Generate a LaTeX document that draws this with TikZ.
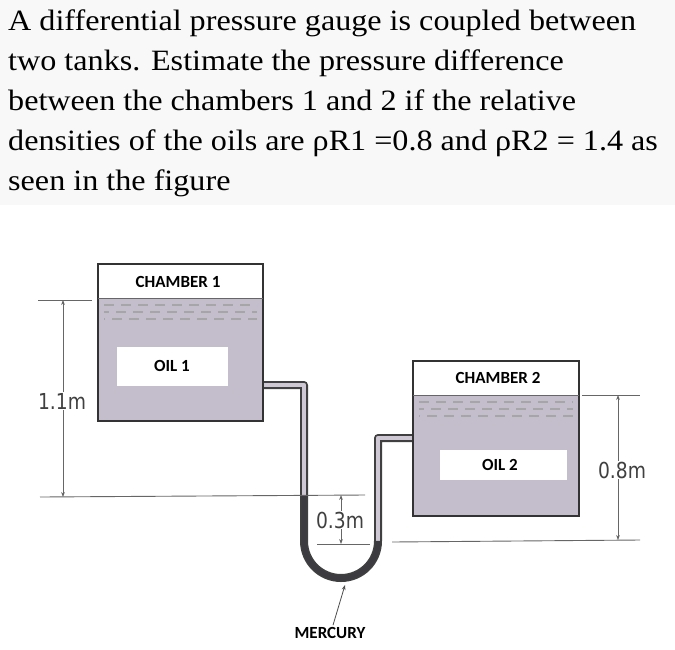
\documentclass[tikz,border=0pt]{standalone}
\usepackage{fontspec}
\setmainfont[FakeStretch=1.09]{Liberation Serif}
\newfontfamily\labfont{Carlito}
\newfontfamily\dimfont[FakeStretch=0.85]{DejaVu Sans}
\usetikzlibrary{arrows.meta}
\definecolor{oil}{RGB}{196,190,204}
\definecolor{hg}{RGB}{60,60,64}
\definecolor{bg}{RGB}{248,248,248}
\tikzset{
  tank/.style={draw=black!80,line width=1.2pt},
  lbl/.style={font=\labfont\bfseries\fontsize{17}{19}\selectfont,inner sep=0pt},
  dimtxt/.style={font=\dimfont\fontsize{22}{24}\selectfont,text=black!75,inner sep=1pt},
  title/.style={anchor=base west,font=\fontsize{29.5}{34}\selectfont,inner sep=0pt},
  guide/.style={draw=black!60,line width=0.9pt},
  dimarr/.style={draw=black!60,line width=0.8pt,{Stealth[length=5pt]}-{Stealth[length=5pt]}},
  tube/.style={draw=black!75,line width=8pt,line join=round},
  tubein/.style={draw=oil!85,line width=4.5pt,line join=round},
  hgline/.style={draw=hg,line width=5pt},
  wave/.style={draw=black!35,line width=1.2pt,dash pattern=on 10pt off 7pt}
}
\begin{document}
\begin{tikzpicture}[x=1pt,y=-1pt]
\useasboundingbox (0,0) rectangle (675,649);
\fill[bg] (0,0) rectangle (675,205);
\node[title] (t1) at (8,30) {A differential pressure gauge is coupled between};
\node[title] (t2) at (8,70) {two tanks. Estimate the pressure difference};
\node[title] (t3) at (8,110) {between the chambers 1 and 2 if the relative};
\node[title] (t4) at (8,150) {densities of the oils are ρR1 =0.8 and ρR2 = 1.4 as};
\node[title] (t5) at (8,190) {seen in the figure};
% tube
\draw[tube] (262,385) -- (304,385) -- (304,541) arc[start angle=180,end angle=0,radius=37] -- (378,438) -- (415,438);
\draw[tubein] (262,385) -- (304,385) -- (304,495);
\draw[tubein] (378,545) -- (378,438) -- (415,438);
\draw[hgline] (304,495) -- (304,541) arc[start angle=180,end angle=0,radius=37] -- (378,545);
% tanks
\fill[oil] (98,298) rectangle (263,421);
\draw[tank] (98,264) rectangle (263,421);
\draw[black!60] (98,298) -- (263,298);
\fill[oil] (413,395) rectangle (579,516);
\draw[tank] (413,361) rectangle (579,516);
\draw[black!60] (413,395) -- (579,395);
\foreach \y/\s in {305/0,312/5,319/9} {\draw[wave,dash phase=\s pt] (104,\y) -- (257,\y);}
\foreach \y/\s in {402/0,409/5,416/9} {\draw[wave,dash phase=\s pt] (419,\y) -- (573,\y);}
\fill[white] (117,347) rectangle (228,386);
\fill[white] (440,450) rectangle (567,480);
\node[lbl] (c1) at (178,282) {CHAMBER 1};
\node[lbl] (o1) at (172,366) {OIL 1};
\node[lbl] (c2) at (498,378) {CHAMBER 2};
\node[lbl] (o2) at (500,465) {OIL 2};
% dimensions
\coordinate (a1) at (63,300); \coordinate (a2) at (63,497);
\draw[guide] (38,300) -- (92,300);
\draw[guide] (40,497) -- (365,495);
\draw[dimarr] (a1) -- (a2);
\node[dimtxt,fill=white] (d1) at (62,401) {1.1m};
\coordinate (b1) at (341,495); \coordinate (b2) at (341,544);
\draw[guide] (317,544) -- (370,544);
\draw[guide] (392,542) -- (640,540);
\draw[dimarr] (b1) -- (b2);
\node[dimtxt,fill=white] (d2) at (340,520) {0.3m};
\coordinate (e1) at (618,395); \coordinate (e2) at (618,540);
\draw[guide] (582,395) -- (640,395);
\draw[dimarr] (e1) -- (e2);
\node[dimtxt,fill=white] (d3) at (622,470) {0.8m};
\node[lbl] (m) at (330,633) {MERCURY};
\coordinate (mt) at (345,585);
\draw[black!70,line width=0.8pt,-{Stealth[length=5pt]}] ([shift={(3,-2)}]m.north) -- (mt);
\end{tikzpicture}
\end{document}
